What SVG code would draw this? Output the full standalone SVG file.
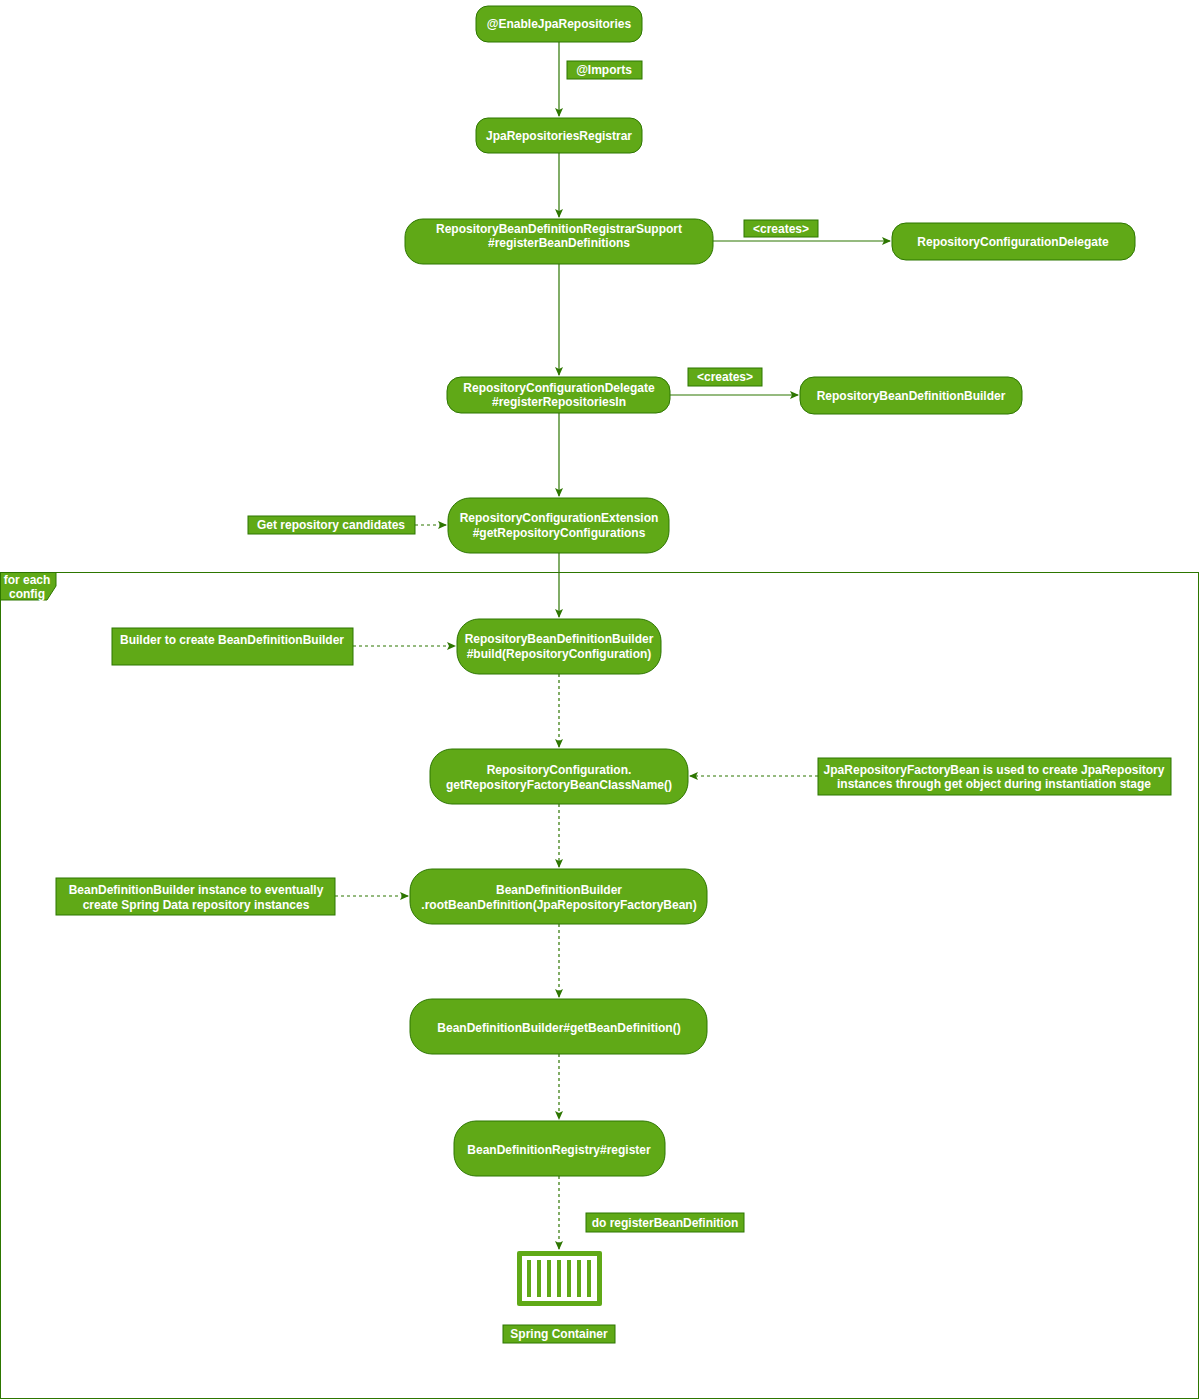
<svg xmlns="http://www.w3.org/2000/svg" width="1200" height="1400" viewBox="0 0 1200 1400">
<style>
.n{fill:#60a917;stroke:#2d7600;stroke-width:1}
.t{fill:#fff;font-family:"Liberation Sans",Arial,sans-serif;font-weight:bold;font-size:12px;text-anchor:middle}
.c{fill:none;stroke:#2d7600;stroke-width:1.2}
.d{stroke-dasharray:3 3}
</style>
<defs>
<marker id="a" markerWidth="10" markerHeight="10" refX="8" refY="5" orient="auto" markerUnits="userSpaceOnUse"><path d="M0,1 L9,5 L0,9 L2,5 Z" fill="#2d7600"/></marker>
</defs>
<rect x="0.5" y="572.5" width="1198" height="826" fill="none" stroke="#2d7600"/>
<g id="frame-tag"><path d="M0.5,572.5 H56 V586 L47,600 H0.5 Z" class="n"/><text class="t" x="27" y="584">for each</text><text class="t" x="27" y="598">config</text></g>
<g id="connectors">
<path class="c" d="M559,42 V116" marker-end="url(#a)"/>
<path class="c" d="M559,153 V217" marker-end="url(#a)"/>
<path class="c" d="M713,241 H890" marker-end="url(#a)"/>
<path class="c" d="M559,264 V375" marker-end="url(#a)"/>
<path class="c" d="M670,395 H798" marker-end="url(#a)"/>
<path class="c" d="M559,413 V496" marker-end="url(#a)"/>
<path class="c d" d="M415,525 H446" marker-end="url(#a)"/>
<path class="c" d="M559,553 V617" marker-end="url(#a)"/>
<path class="c d" d="M353,646 H455" marker-end="url(#a)"/>
<path class="c d" d="M559,674 V747" marker-end="url(#a)"/>
<path class="c d" d="M818,776 H690" marker-end="url(#a)"/>
<path class="c d" d="M559,804 V867" marker-end="url(#a)"/>
<path class="c d" d="M335,896 H408" marker-end="url(#a)"/>
<path class="c d" d="M559,924 V997" marker-end="url(#a)"/>
<path class="c d" d="M559,1054 V1119" marker-end="url(#a)"/>
<path class="c d" d="M559,1176 V1249" marker-end="url(#a)"/>
</g>
<g id="n1"><rect class="n" x="476" y="6" width="166" height="36" rx="12"/><text class="t" x="559" y="28">@EnableJpaRepositories</text></g>
<g id="l1"><rect class="n" x="567" y="61" width="75" height="18"/><text class="t" x="604" y="74">@Imports</text></g>
<g id="n2"><rect class="n" x="476" y="118" width="166" height="35" rx="12"/><text class="t" x="559" y="140">JpaRepositoriesRegistrar</text></g>
<g id="n3"><rect class="n" x="405" y="219" width="308" height="45" rx="18"/><text class="t" x="559" y="233">RepositoryBeanDefinitionRegistrarSupport</text><text class="t" x="559" y="247">#registerBeanDefinitions</text></g>
<g id="l2"><rect class="n" x="744" y="220" width="74" height="17"/><text class="t" x="781" y="233">&lt;creates&gt;</text></g>
<g id="n4"><rect class="n" x="892" y="223" width="243" height="37" rx="14"/><text class="t" x="1013" y="246">RepositoryConfigurationDelegate</text></g>
<g id="n5"><rect class="n" x="447" y="377" width="223" height="36" rx="14"/><text class="t" x="559" y="392">RepositoryConfigurationDelegate</text><text class="t" x="559" y="406">#registerRepositoriesIn</text></g>
<g id="l3"><rect class="n" x="688" y="368" width="74" height="18"/><text class="t" x="725" y="381">&lt;creates&gt;</text></g>
<g id="n6"><rect class="n" x="800" y="377" width="222" height="37" rx="14"/><text class="t" x="911" y="400">RepositoryBeanDefinitionBuilder</text></g>
<g id="n7"><rect class="n" x="448" y="498" width="221" height="55" rx="22"/><text class="t" x="559" y="522">RepositoryConfigurationExtension</text><text class="t" x="559" y="537">#getRepositoryConfigurations</text></g>
<g id="l4"><rect class="n" x="248" y="516" width="167" height="18"/><text class="t" x="331" y="529">Get repository candidates</text></g>
<g id="n8"><rect class="n" x="457" y="619" width="204" height="55" rx="22"/><text class="t" x="559" y="643">RepositoryBeanDefinitionBuilder</text><text class="t" x="559" y="658">#build(RepositoryConfiguration)</text></g>
<g id="l5"><rect class="n" x="112" y="628" width="241" height="37"/><text class="t" x="232" y="644">Builder to create BeanDefinitionBuilder</text></g>
<g id="n9"><rect class="n" x="430" y="749" width="258" height="55" rx="22"/><text class="t" x="559" y="774">RepositoryConfiguration.</text><text class="t" x="559" y="789">getRepositoryFactoryBeanClassName()</text></g>
<g id="l6"><rect class="n" x="818" y="758" width="353" height="37"/><text class="t" x="994" y="774">JpaRepositoryFactoryBean is used to create JpaRepository</text><text class="t" x="994" y="788">instances through get object during instantiation stage</text></g>
<g id="n10"><rect class="n" x="410" y="869" width="297" height="55" rx="22"/><text class="t" x="559" y="894">BeanDefinitionBuilder</text><text class="t" x="559" y="909">.rootBeanDefinition(JpaRepositoryFactoryBean)</text></g>
<g id="l7"><rect class="n" x="56" y="878" width="279" height="37"/><text class="t" x="196" y="894">BeanDefinitionBuilder instance to eventually</text><text class="t" x="196" y="909">create Spring Data repository instances</text></g>
<g id="n11"><rect class="n" x="410" y="999" width="297" height="55" rx="22"/><text class="t" x="559" y="1032">BeanDefinitionBuilder#getBeanDefinition()</text></g>
<g id="n12"><rect class="n" x="454" y="1121" width="211" height="55" rx="22"/><text class="t" x="559" y="1154">BeanDefinitionRegistry#register</text></g>
<g id="l8"><rect class="n" x="586" y="1213" width="158" height="19"/><text class="t" x="665" y="1227">do registerBeanDefinition</text></g>
<g id="container">
<rect x="517" y="1251" width="85" height="55" rx="2" fill="#60a917"/>
<rect x="522" y="1256" width="75" height="45" fill="#fff"/>
<g fill="#60a917"><rect x="527" y="1260" width="4" height="37"/><rect x="537" y="1260" width="4" height="37"/><rect x="547" y="1260" width="4" height="37"/><rect x="557" y="1260" width="4" height="37"/><rect x="567" y="1260" width="4" height="37"/><rect x="577" y="1260" width="4" height="37"/><rect x="587" y="1260" width="4" height="37"/></g>
</g>
<g id="l9"><rect class="n" x="503" y="1325" width="112" height="18"/><text class="t" x="559" y="1338">Spring Container</text></g>
</svg>
